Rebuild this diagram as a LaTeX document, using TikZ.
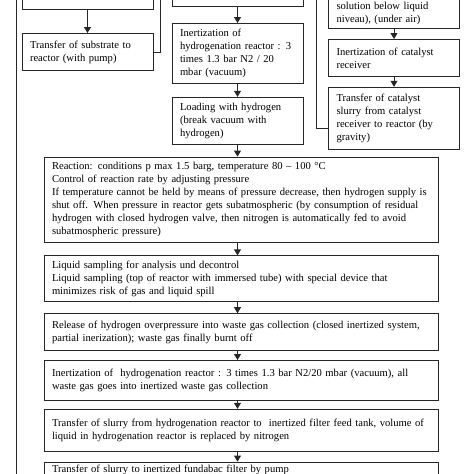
\documentclass[tikz,border=0pt]{standalone}
\usepackage{fontspec}
\setmainfont{Liberation Serif}
\usetikzlibrary{positioning,arrows.meta}

\tikzset{
  stepbox/.style = {draw=black!85, line width=0.8pt, align=left, anchor=north,
                    inner xsep=8pt, inner ysep=4pt, font=\fontsize{10.6}{13}\selectfont},
  smallbox/.style = {stepbox, text width=115pt},
  widebox/.style = {stepbox, text width=378pt},
  flow/.style = {-{Triangle[width=7pt,length=6pt]}, line width=0.8pt, draw=black!85},
  feed/.style = {line width=0.8pt, draw=black!85},
}

\begin{document}
\begin{tikzpicture}[x=1pt, y=-1pt]
        \useasboundingbox (0,0) rectangle (474,474);
        \clip (0,0) rectangle (474,474);

        \node[smallbox, anchor=south, minimum height=30pt] (feedtop) at (87.5,10) {};
        \node[smallbox, anchor=south, minimum height=30pt] (hydrotop) at (237.5,7) {};
        \node[smallbox, anchor=south] (catprep) at (394,29) {solution below liquid\\niveau), (under air)};

        \node[smallbox, below=23pt of feedtop, minimum height=37pt] (substrate)
          {Transfer of substrate to\\reactor (with pump)};

        \node[smallbox, below=16pt of hydrotop, minimum height=60pt] (inert)
          {Inertization of\\hydrogenation reactor : 3\\times 1.3 bar N2 / 20\\mbar (vacuum)};
        \node[smallbox, below=13pt of inert, minimum height=47pt] (loading)
          {Loading with hydrogen\\(break vacuum with\\hydrogen)};

        \node[smallbox, below=10pt of catprep, minimum height=37pt] (catinert)
          {Inertization of catalyst\\receiver};
        \node[smallbox, below=10pt of catinert, minimum height=62pt] (catslurry)
          {Transfer of catalyst\\slurry from catalyst\\receiver to reactor (by\\gravity)};

        \node[widebox, below=12pt of loading, xshift=3.5pt, minimum height=85pt] (reaction)
          {Reaction: conditions p max 1.5 barg, temperature 80 – 100 °C\\
           Control of reaction rate by adjusting pressure\\
           If temperature cannot be held by means of pressure decrease, then hydrogen supply is\\
           shut off. When pressure in reactor gets subatmospheric (by consumption of residual\\
           hydrogen with closed hydrogen valve, then nitrogen is automatically fed to avoid\\
           subatmospheric pressure)};
        \node[widebox, below=13pt of reaction, minimum height=46pt] (sampling)
          {Liquid sampling for analysis und decontrol\\
           Liquid sampling (top of reactor with immersed tube) with special device that\\
           minimizes risk of gas and liquid spill};
        \node[widebox, below=11pt of sampling, minimum height=37pt] (release)
          {Release of hydrogen overpressure into waste gas collection (closed inertized system,\\
           partial inerization); waste gas finally burnt off};
        \node[widebox, below=9pt of release, minimum height=40pt] (inertagain)
          {Inertization of\ \ hydrogenation reactor : 3 times 1.3 bar N2/20 mbar (vacuum), all\\
           waste gas goes into inertized waste gas collection};
        \node[widebox, below=8pt of inertagain, minimum height=42pt] (filtertank)
          {Transfer of slurry from hydrogenation reactor to\ \ inertized filter feed tank, volume of\\
           liquid in hydrogenation reactor is replaced by nitrogen};
        \node[widebox, below=10pt of filtertank, inner ysep=3pt, text depth=14pt] (fundabac)
          {Transfer of slurry to inertized fundabac filter by pump};

        \coordinate (railtop) at (16,-5);
        \coordinate (railbot) at (16,480);
        \coordinate (subtop) at (160,-5);
        \coordinate (cattop) at (316,-5);

        \draw[feed] (railtop) -- (railbot);
        \draw[feed] (substrate.east) -| (subtop);
        \draw[feed] ([yshift=-10pt]catslurry.west) -| (cattop);

        \draw[flow] (feedtop) -- (substrate);
        \draw[flow] (hydrotop) -- (inert);
        \draw[flow] (inert) -- (loading);
        \draw[flow] (catprep) -- (catinert);
        \draw[flow] (catinert) -- (catslurry);
        \draw[flow] (loading.south) -- (loading.south |- reaction.north);
        \foreach \a/\b in {reaction/sampling, sampling/release, release/inertagain,
                           inertagain/filtertank, filtertank/fundabac}
          \draw[flow] (\a.south -| loading.south) -- (\b.north -| loading.south);
      \end{tikzpicture}
\end{document}
